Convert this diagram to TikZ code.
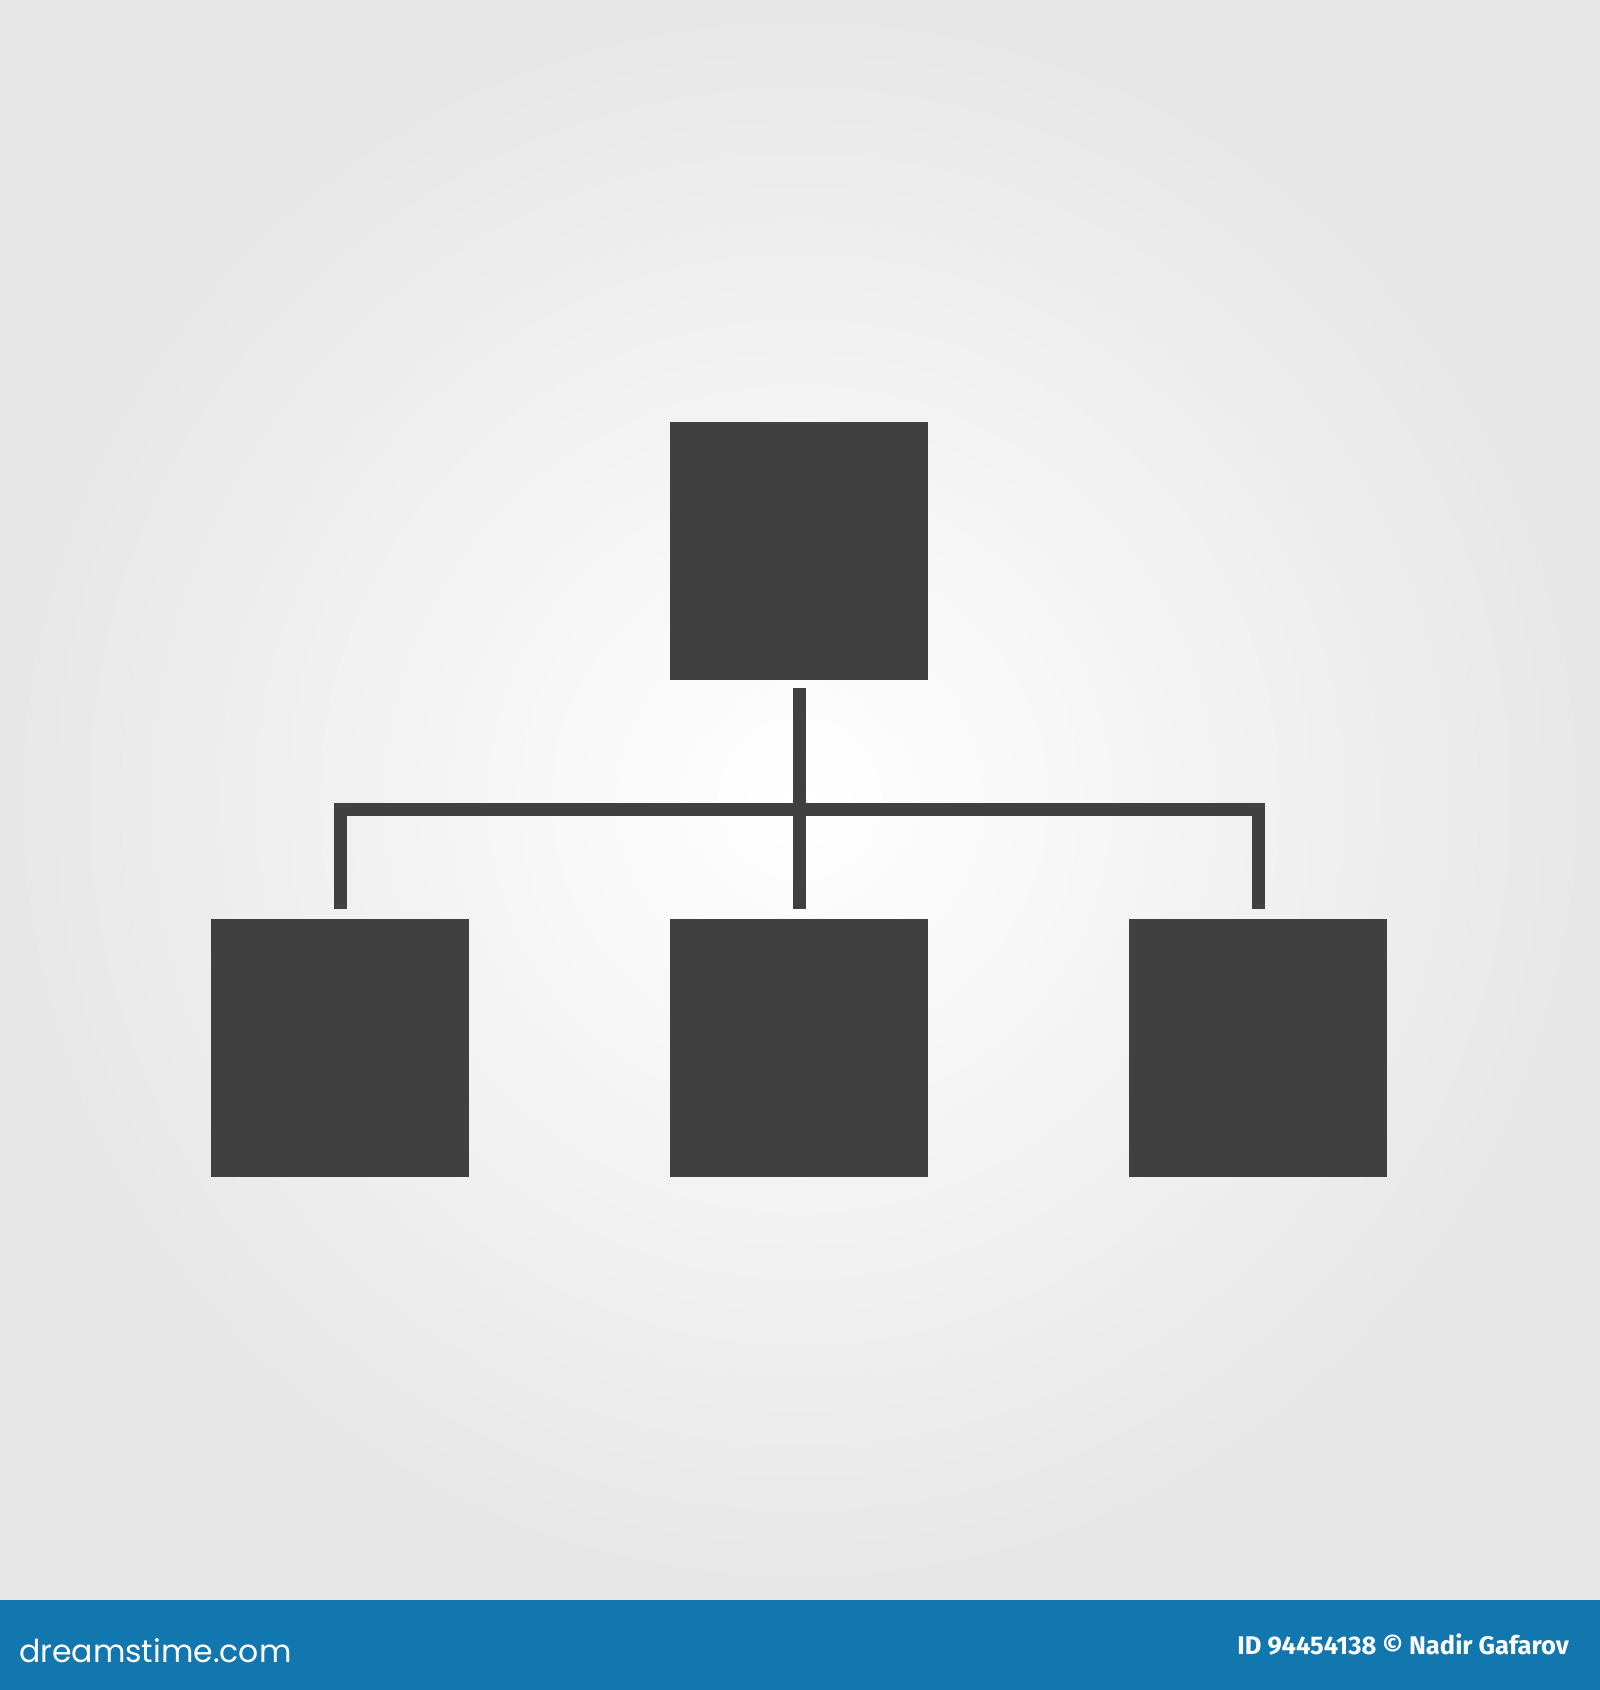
\documentclass[tikz,border=0pt]{standalone}
\usepackage{fontspec}
\newfontfamily\logofont{Poppins}
\newfontfamily\idfont{Fira Sans}
\definecolor{boxgray}{HTML}{404040}
\definecolor{barblue}{HTML}{1177AE}
\begin{document}
\begin{tikzpicture}[x=1pt,y=-1pt,
  box/.style={fill=boxgray,draw=none,minimum width=258pt,minimum height=258pt,inner sep=0pt},
  conn/.style={draw=boxgray,line width=13pt,miter limit=10}]
\useasboundingbox (0,0) rectangle (1599,1690);
\shade[inner color=white,outer color=gray!19] (-2,-2) rectangle (1601,1600);
\fill[barblue] (-2,1600) rectangle (1601,1692);
\node[box] (top) at (799,551) {};
\node[box] (left) at (340,1047.5) {};
\node[box] (mid) at (799,1047.5) {};
\node[box] (right) at (1258,1047.5) {};
\coordinate (j) at (799,809);
\draw[conn] ([yshift=-8pt]top.south) -- ([yshift=9pt]mid.north);
\draw[conn] ([yshift=9pt]left.north) |- (j) -| ([yshift=9pt]right.north);
\node[anchor=base west,inner sep=0pt,text=white,font=\logofont\fontsize{31.5}{31.5}\selectfont] (logo) at (19,1662) {dreamstime.com};
\node[anchor=base east,inner sep=0pt,text=white,font=\idfont\bfseries\fontsize{25.5}{25.5}\selectfont] (id) at (1569,1654) {ID 94454138 © Nadir Gafarov};
\end{tikzpicture}
\end{document}
